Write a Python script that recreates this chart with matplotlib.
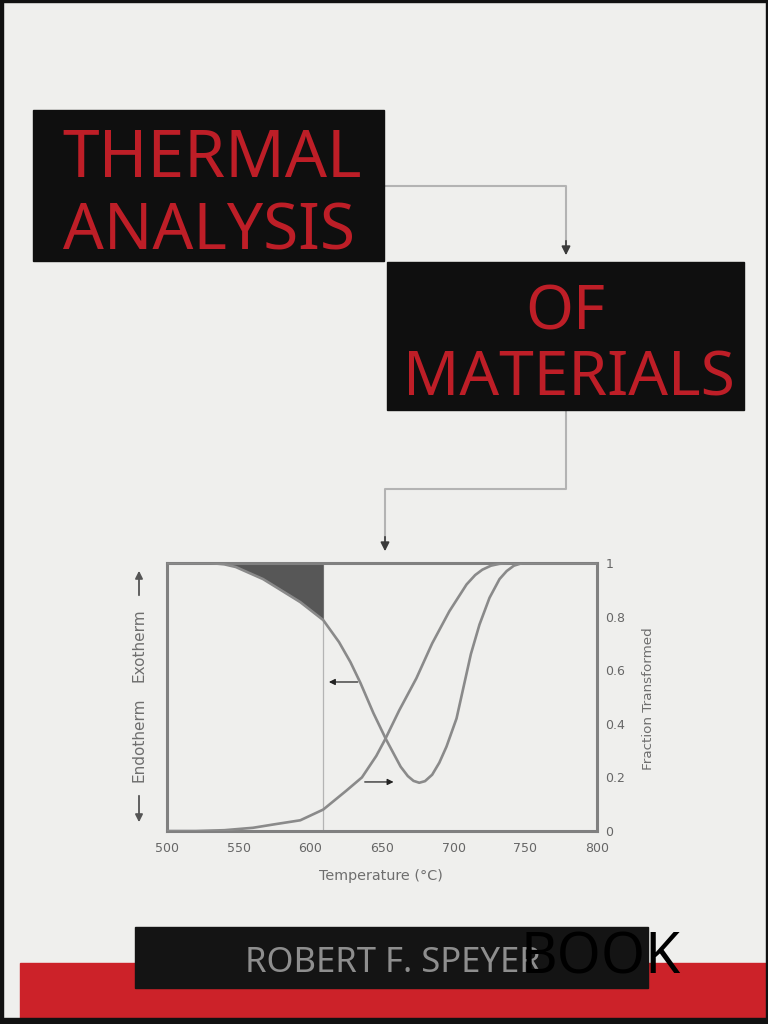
import matplotlib
matplotlib.use("Agg")
import matplotlib.pyplot as plt
from matplotlib.patches import Rectangle
import numpy as np

# ---------------- data ----------------
x_ticks = [500, 550, 600, 650, 700, 750, 800]
y_ticks = [0, 0.2, 0.4, 0.6, 0.8, 1]
y_tick_labels = ["0", "0.2", "0.4", "0.6", "0.8", "1"]

# DTA signal (left axis, exotherm up), normalised 0..1
dta_temp = [500, 530, 540, 548, 556, 567, 577, 593, 609, 620, 628, 635, 644,
            653, 663, 668, 672, 676, 680, 685, 690, 695, 702, 707, 712, 718,
            725, 732, 737, 742, 748, 800]
dta_val = [1.0, 1.0, 0.995, 0.985, 0.966, 0.94, 0.907, 0.854, 0.787, 0.705,
           0.63, 0.552, 0.44, 0.34, 0.24, 0.205, 0.187, 0.18, 0.186, 0.21,
           0.255, 0.315, 0.42, 0.54, 0.66, 0.77, 0.87, 0.94, 0.97, 0.99,
           1.0, 1.0]

# Fraction transformed (right axis)
frac_temp = [500, 520, 540, 560, 575, 593, 609, 625, 636, 646, 652, 662, 674,
             685, 697, 709, 715, 720, 726, 732, 740, 800]
frac_val = [0, 0, 0.003, 0.012, 0.025, 0.04, 0.08, 0.15, 0.20, 0.28, 0.34,
            0.45, 0.57, 0.70, 0.82, 0.92, 0.955, 0.975, 0.99, 0.997, 1.0, 1.0]

shade_start, shade_end = 530, 609

title_lines = ["THERMAL", "ANALYSIS", "OF", "MATERIALS"]
author = "ROBERT F. SPEYER"
overlay = "BOOK"
x_label = "Temperature (°C)"
right_label = "Fraction Transformed"
left_label_top = "Exotherm"
left_label_bottom = "Endotherm"

# ---------------- figure ----------------
W, H = 768, 1024
page = "#efefed"
fig = plt.figure(figsize=(W / 100, H / 100), dpi=100, facecolor=page)
bg = fig.add_axes([0, 0, 1, 1])
bg.set_xlim(0, W)
bg.set_ylim(H, 0)
bg.axis("off")
bg.set_facecolor(page)
renderer = fig.canvas.get_renderer()


def fit_text(x, y, s, width, **kw):
    t = bg.text(x, y, s, fontsize=40, ha="left", va="baseline", **kw)
    w = t.get_window_extent(renderer).width
    t.set_fontsize(40 * width / w)
    return t


red = "#be1e27"
box_black = "#0f0f0f"

# title boxes
bg.add_patch(Rectangle((33, 110), 351, 151, color=box_black, zorder=2))
bg.add_patch(Rectangle((387, 262), 357, 148, color=box_black, zorder=2))

fit_text(62, 177, title_lines[0], 300, color=red, family="Noto Sans", zorder=3)
fit_text(63, 250, title_lines[1], 292, color=red, family="Noto Sans", zorder=3)
fit_text(525, 330, title_lines[2], 80, color=red, family="Noto Sans", zorder=3)
fit_text(403, 395, title_lines[3], 332, color=red, family="Noto Sans", zorder=3)

# connectors
conn = "#b3b3b3"
bg.plot([386, 566, 566], [186, 186, 246], color=conn, lw=1.5, zorder=1)
bg.annotate("", xy=(566, 258), xytext=(566, 238),
            arrowprops=dict(arrowstyle="-|>", color="#3a3a3a", lw=1.2,
                            mutation_scale=13), zorder=1)
bg.plot([566, 566, 385, 385], [410, 489, 489, 542], color=conn, lw=1.5, zorder=1)
bg.annotate("", xy=(385, 554), xytext=(385, 534),
            arrowprops=dict(arrowstyle="-|>", color="#3a3a3a", lw=1.2,
                            mutation_scale=13), zorder=1)

# bottom band and author box
bg.add_patch(Rectangle((20, 963), 748, 56, color="#cc2229", zorder=1))
bg.add_patch(Rectangle((135, 927), 513, 61, color="#141414", zorder=2))
fit_text(245, 972, author, 296, color="#8e8e8e", family="Noto Sans",
         weight="bold", zorder=3)
fit_text(521, 973, overlay, 160, color="black", family="Noto Sans", zorder=4)

# frame
bg.add_patch(Rectangle((0, 0), 3, H, color="#111", zorder=5))
bg.add_patch(Rectangle((0, 0), W, 2, color="#111", zorder=5))
bg.add_patch(Rectangle((0, 1018), W, 6, color="#111", zorder=5))
bg.add_patch(Rectangle((766, 0), 2, H, color="#111", zorder=5))

# left axis label (rotated) with arrows
lab_col = "#6e6e6e"
bg.annotate("", xy=(139, 568), xytext=(139, 598),
            arrowprops=dict(arrowstyle="-|>", color="#555", lw=1.3,
                            mutation_scale=11))
bg.annotate("", xy=(139, 825), xytext=(139, 793),
            arrowprops=dict(arrowstyle="-|>", color="#555", lw=1.3,
                            mutation_scale=11))
bg.text(139, 645, left_label_top, rotation=90, ha="center", va="center",
        fontsize=11, color=lab_col)
bg.text(139, 740, left_label_bottom, rotation=90, ha="center", va="center",
        fontsize=11, color=lab_col)
bg.text(649, 699, right_label, rotation=90, ha="center", va="center",
        fontsize=9.7, color=lab_col)
bg.text(381, 876, x_label, ha="center", va="center", fontsize=10.4, color=lab_col)

# ---------------- chart ----------------
L, R, T, B = 167, 597, 563, 831
ax = fig.add_axes([L / W, 1 - B / H, (R - L) / W, (B - T) / H])
ax.set_facecolor(page)
ax.set_xlim(500, 800)
ax.set_ylim(0, 1)

curve_col = "#8a8a8a"
dt = np.array(dta_temp)
dv = np.array(dta_val)
mask = (dt >= shade_start) & (dt <= shade_end)
ax.fill_between(dt, dv, 1, where=mask, color="#575757", lw=0, zorder=2)
ax.axvline(shade_end, color="#b4b4b4", lw=0.9, zorder=1)
ax.plot(dta_temp, dta_val, color=curve_col, lw=1.9, zorder=3,
        solid_joinstyle="round")
ax.plot(frac_temp, frac_val, color=curve_col, lw=1.9, zorder=3,
        solid_joinstyle="round")

ax.annotate("", xy=(611, 0.556), xytext=(635, 0.556),
            arrowprops=dict(arrowstyle="-|>", color="#222", lw=0.9,
                            mutation_scale=9), zorder=4)
ax.annotate("", xy=(660, 0.183), xytext=(636, 0.183),
            arrowprops=dict(arrowstyle="-|>", color="#222", lw=0.9,
                            mutation_scale=9), zorder=4)

ax.set_xticks(x_ticks)
ax.set_xticklabels([str(v) for v in x_ticks])
ax.yaxis.tick_right()
ax.set_yticks(y_ticks)
ax.set_yticklabels(y_tick_labels)
ax.tick_params(axis="x", length=0, pad=8, labelsize=9, colors="#666666")
ax.tick_params(axis="y", length=0, pad=6, labelsize=9, colors="#666666")
for sp in ax.spines.values():
    sp.set_color("#808080")
    sp.set_linewidth(2.2)

fig.savefig("out.png", dpi=100, facecolor=page)
